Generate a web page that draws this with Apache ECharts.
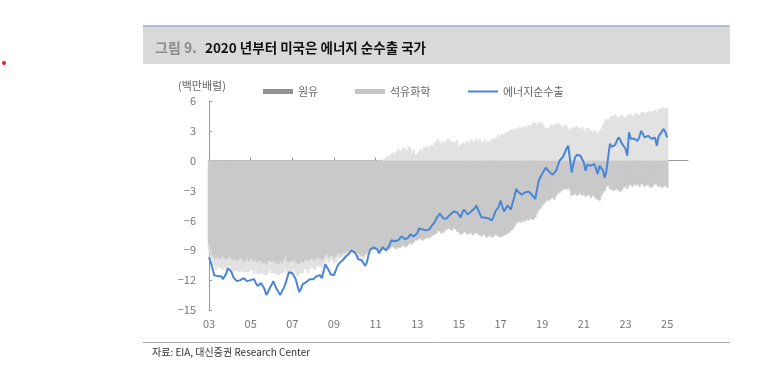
<!DOCTYPE html>
<html>
<head>
<meta charset="utf-8">
<script src="https://cdn.jsdelivr.net/npm/echarts@6/dist/echarts.min.js"></script>
<style>
html,body{margin:0;padding:0;background:#fff;}
#c{width:775px;height:380px;}
</style>
</head>
<body>
<div id="c"></div>
<script>
// ---- data (monthly, Jan 2003 .. Jan 2025), million barrels/day ----
var startYear = 2003;
var seriesNames = ['원유', '석유화학', '에너지순수출'];
var xTickLabels = ['03','05','07','09','11','13','15','17','19','21','23','25'];
var yMin = -15, yMax = 6, yStep = 3;

var crude = [
 -8.4,-8.9,-9.5,-9.7,-9.8,-9.6,-9.9,-9.7,-9.6,-9.8,-9.9,-9.7,
 -9.6,-9.9,-10.0,-9.8,-10.1,-10.0,-9.8,-9.9,-10.2,-10.0,-9.9,-10.1,
 -9.8,-10.0,-10.1,-9.9,-10.2,-10.0,-10.1,-10.3,-10.2,-10.4,-10.1,-10.0,
 -10.2,-10.0,-10.3,-10.2,-10.4,-10.1,-10.3,-10.0,-9.6,-10.1,-10.2,-10.0,
 -10.1,-9.9,-10.2,-10.3,-10.4,-10.1,-10.2,-10.0,-9.9,-10.1,-10.0,-9.8,
 -9.9,-10.0,-9.8,-9.7,-9.9,-10.0,-9.8,-9.5,-9.4,-9.7,-9.6,-9.5,
 -9.8,-9.6,-9.4,-9.3,-9.5,-9.2,-9.3,-9.1,-9.2,-9.0,-8.9,-9.1,
 -9.0,-9.2,-9.3,-9.4,-9.5,-9.6,-9.4,-9.2,-9.1,-8.9,-8.8,-8.9,
 -8.9,-9.0,-9.2,-9.1,-9.0,-8.9,-9.1,-9.0,-8.9,-8.7,-8.6,-8.8,
 -8.9,-8.7,-8.8,-8.6,-8.5,-8.7,-8.6,-8.4,-8.3,-8.4,-8.2,-8.0,
 -8.0,-7.9,-7.8,-8.0,-7.9,-7.8,-7.7,-7.8,-7.6,-7.5,-7.4,-7.3,
 -7.0,-7.1,-7.3,-7.2,-7.0,-6.9,-6.8,-6.9,-7.0,-6.8,-6.9,-7.1,
 -7.2,-7.4,-7.3,-7.1,-7.2,-7.4,-7.3,-7.2,-7.5,-7.3,-7.2,-7.4,
 -7.5,-7.6,-7.4,-7.5,-7.7,-7.6,-7.5,-7.7,-7.6,-7.4,-7.5,-7.6,
 -7.7,-7.6,-7.5,-7.4,-7.3,-7.2,-7.0,-6.9,-6.6,-6.3,-6.2,-6.1,
 -6.2,-6.0,-6.1,-5.9,-6.0,-5.8,-5.9,-5.9,-5.7,-5.3,-5.0,-4.8,
 -4.5,-4.3,-4.1,-3.9,-4.0,-3.8,-3.7,-3.9,-3.5,-3.3,-3.2,-3.0,
 -2.9,-2.8,-2.9,-2.7,-3.0,-3.5,-3.4,-3.3,-3.5,-3.4,-3.3,-3.5,
 -3.3,-3.6,-3.5,-3.4,-3.7,-3.5,-3.6,-3.8,-3.9,-4.0,-3.5,-3.2,
 -3.0,-2.6,-2.5,-2.8,-2.9,-3.0,-2.9,-2.8,-3.0,-3.1,-2.9,-2.7,
 -2.6,-2.8,-2.5,-2.4,-2.6,-2.3,-2.5,-2.4,-2.6,-2.3,-2.4,-2.6,
 -2.5,-2.4,-2.6,-2.7,-2.5,-2.3,-2.4,-2.6,-2.5,-2.7,-2.6,-2.5,
 -2.7
];

var products = [
 -0.8,-1.0,-1.1,-0.9,-1.2,-1.0,-0.9,-1.1,-1.3,-1.0,-1.1,-0.9,
 -1.0,-1.2,-1.1,-1.3,-1.0,-1.2,-1.4,-1.1,-1.0,-1.2,-1.3,-1.1,
 -1.2,-1.0,-1.3,-1.1,-1.2,-1.4,-1.2,-1.0,-1.3,-1.1,-1.2,-1.0,
 -1.1,-1.3,-1.0,-1.2,-1.1,-1.3,-1.0,-1.2,-1.4,-1.1,-1.0,-1.2,
 -1.2,-1.0,-1.1,-1.3,-1.0,-1.2,-1.1,-0.9,-1.0,-1.2,-0.9,-1.0,
 -0.9,-1.0,-0.8,-0.9,-0.7,-0.8,-0.6,-0.7,-0.5,-0.6,-0.4,-0.5,
 -0.5,-0.6,-0.4,-0.5,-0.3,-0.4,-0.5,-0.3,-0.4,-0.2,-0.3,-0.2,
 -0.3,-0.2,-0.4,-0.3,-0.2,-0.3,-0.1,-0.2,-0.1,-0.2,-0.1,-0.1,
 -0.1,-0.1,0.1,0.0,0.1,0.2,0.3,0.5,0.4,0.7,0.8,0.6,
 0.9,1.2,1.0,1.1,1.3,1.2,1.0,1.4,1.3,0.8,1.1,0.7,
 0.7,0.9,1.2,1.0,1.4,1.3,1.5,1.2,1.6,1.5,1.8,2.0,
 2.2,1.9,1.7,2.0,1.8,2.1,2.2,1.9,2.0,1.8,1.9,2.1,
 1.4,1.6,1.8,1.7,1.9,2.0,1.8,2.1,2.0,1.9,2.2,2.0,
 2.2,1.8,1.9,2.1,1.8,2.0,1.9,2.2,2.1,2.3,2.4,2.6,
 2.5,2.7,2.6,2.8,2.9,3.0,3.1,3.2,3.0,3.3,3.2,3.4,
 3.2,3.4,3.5,3.3,3.6,3.5,3.7,3.9,3.8,3.6,3.9,3.85,
 3.8,3.5,3.3,3.2,3.4,3.6,3.5,3.7,3.6,3.8,3.7,3.5,
 3.4,3.6,3.5,3.2,3.0,3.3,3.4,3.35,3.5,3.3,3.2,3.4,
 3.1,2.9,3.3,3.2,3.0,2.85,3.1,2.9,2.8,3.0,3.2,3.6,
 4.0,4.2,4.1,4.3,4.5,4.4,4.6,4.5,4.3,4.5,4.6,4.4,
 4.3,4.5,4.6,4.7,4.5,4.6,4.8,4.7,4.6,4.8,4.9,4.7,
 4.85,4.9,5.0,4.8,5.0,5.1,4.9,5.2,5.1,5.35,5.3,5.2,
 5.3
];

var net = [
 -9.7,-9.6,-10.8,-11.5,-11.7,-11.6,-11.5,-11.6,-11.9,-11.8,-11.3,-10.8,
 -10.8,-11.2,-11.7,-11.9,-12.1,-12.2,-12.0,-11.9,-11.8,-12.0,-12.1,-12.1,
 -12.0,-11.9,-11.9,-12.3,-12.6,-12.4,-12.3,-12.6,-12.9,-13.5,-13.2,-12.8,
 -12.5,-12.1,-11.9,-12.9,-13.2,-13.5,-13.4,-12.8,-12.4,-12.3,-11.2,-11.3,
 -11.3,-11.5,-11.9,-12.6,-13.2,-12.9,-12.4,-12.5,-12.2,-12.0,-11.9,-12.0,
 -11.9,-11.7,-11.6,-11.4,-11.5,-11.8,-11.9,-10.4,-10.2,-11.0,-11.4,-11.3,
 -11.5,-11.7,-10.6,-10.3,-10.1,-10.0,-9.8,-9.6,-9.5,-9.3,-9.0,-8.8,
 -9.2,-9.5,-9.9,-10.1,-10.0,-10.3,-10.55,-10.2,-9.4,-8.9,-8.8,-8.7,
 -8.7,-8.9,-9.3,-9.0,-8.7,-8.8,-9.0,-8.9,-8.5,-8.0,-7.9,-8.1,
 -8.2,-8.0,-7.8,-7.6,-7.7,-7.9,-8.0,-7.7,-7.4,-7.5,-7.6,-7.5,
 -7.3,-6.8,-6.6,-6.9,-7.1,-7.0,-6.8,-6.9,-6.6,-6.4,-6.2,-5.8,
 -5.6,-5.3,-5.5,-5.8,-6.0,-5.8,-5.6,-5.4,-5.3,-5.1,-4.9,-5.2,
 -5.3,-5.7,-5.2,-4.9,-5.1,-5.4,-5.3,-5.1,-5.0,-4.8,-4.5,-4.9,
 -5.3,-5.7,-5.5,-5.7,-5.9,-5.8,-5.9,-6.0,-5.6,-5.1,-5.2,-4.6,
 -4.0,-4.6,-5.1,-4.8,-4.5,-4.7,-4.9,-4.2,-3.6,-2.85,-3.1,-3.3,
 -3.4,-3.3,-3.2,-3.3,-3.1,-3.0,-3.4,-3.6,-3.85,-2.9,-2.0,-1.6,
 -1.3,-1.0,-0.7,-0.8,-1.1,-1.3,-1.4,-1.5,-1.0,-0.5,0.0,0.2,
 0.4,0.6,1.2,1.5,1.3,-1.2,-0.3,0.35,0.6,0.7,0.5,0.4,
 -0.2,-1.0,-0.4,-0.2,-0.5,-0.4,-0.35,-0.8,-1.35,-0.5,-0.6,-1.0,
 -1.7,-1.0,0.35,1.7,1.4,1.2,1.6,2.0,2.35,2.1,1.7,1.5,
 1.2,0.5,2.85,2.2,2.0,2.2,2.1,2.0,2.4,3.0,2.7,2.35,
 2.4,2.5,2.3,2.2,2.0,2.3,1.5,2.4,2.7,2.9,3.2,2.85,
 2.35
];

// ---- build (layered bars: products below crude when negative, above zero when positive) ----
var FONT = '"Noto Sans CJK KR", "Noto Sans", sans-serif';
function pairs(arr){ return arr.map(function(v,i){ return [i/12, v]; }); }
var productsBelow = crude.map(function(c,i){ return c + Math.min(products[i], 0); });
var productsAbove = products.map(function(p){ return Math.max(p, 0); });
var tickVals = xTickLabels.map(function(_, i){ return i*2; });
function yFmt(v){ return String(v).replace('-', '\u2212'); }

var DARK = '#c9c9c9', LIGHT = '#e2e2e2', BLUE = '#4a86d6';
var legendBase = { top: 81, itemWidth: 30, itemGap: 0, textStyle: { fontFamily: FONT, fontSize: 11, color: '#666666' }, selectedMode: false };

var chart = echarts.init(document.getElementById('c'), null, {renderer:'canvas'});
chart.setOption({
  animation: false,
  backgroundColor: '#ffffff',
  title: {
    text: '{a|그림 9.}  {b|2020 년부터 미국은 에너지 순수출 국가}',
    left: 150, top: 34,
    textStyle: {
      fontFamily: FONT,
      rich: {
        a: { color: '#8c8c8c', fontSize: 14, fontFamily: FONT },
        b: { color: '#111111', fontSize: 13.5, fontWeight: 'bold', fontFamily: FONT }
      }
    }
  },
  graphic: [
    { type: 'rect', z: -1, shape: { x: 143, y: 26, width: 587, height: 38 }, style: { fill: '#d9d9d9' } },
    { type: 'line', shape: { x1: 143, y1: 26, x2: 730, y2: 26 }, style: { stroke: '#9db1cc', lineWidth: 1.5 } },
    { type: 'line', shape: { x1: 143, y1: 342.5, x2: 730, y2: 342.5 }, style: { stroke: '#a8a8a8', lineWidth: 1 } },
    { type: 'text', x: 152, y: 352, style: { text: '자료: EIA, 대신증권 Research Center', fill: '#333333', font: '10px ' + FONT, textVerticalAlign: 'middle' } },
    { type: 'text', x: 178, y: 86, style: { text: '(백만배럴)', fill: '#666666', font: '11px ' + FONT, textVerticalAlign: 'middle' } },
    { type: 'circle', shape: { cx: 4, cy: 63, r: 2 }, style: { fill: '#e41c1c' } }
  ],
  legend: [
    Object.assign({}, legendBase, { left: 258, itemHeight: 5, data: [{ name: seriesNames[0], icon: 'rect', itemStyle: { color: '#929292' } }] }),
    Object.assign({}, legendBase, { left: 350, itemHeight: 5, data: [{ name: seriesNames[1], icon: 'rect', itemStyle: { color: '#c4c4c4' } }] }),
    Object.assign({}, legendBase, { left: 463, itemHeight: 2, data: [{ name: seriesNames[2], icon: 'rect', itemStyle: { color: BLUE } }] })
  ],
  grid: { left: 209, right: 87, top: 101, bottom: 70, containLabel: false },
  xAxis: [
    { type: 'value', min: 0, max: 23, interval: 2,
      axisLine: { onZero: true, onZeroAxisIndex: 0, lineStyle: { color: '#9a9a9a', width: 1 } },
      axisTick: { show: true, inside: false, length: 3, customValues: tickVals, lineStyle: { color: '#8a8a8a' } },
      axisLabel: { show: false }, splitLine: { show: false } },
    { type: 'value', min: 0, max: 23, interval: 2, position: 'bottom',
      axisLine: { show: false, onZero: true, onZeroAxisIndex: 0 },
      axisTick: { show: true, inside: true, length: 3, customValues: tickVals, lineStyle: { color: '#8a8a8a' } },
      axisLabel: { show: false }, splitLine: { show: false } },
    { type: 'value', min: 0, max: 23, interval: 2, position: 'bottom',
      axisLine: { show: false, onZero: false },
      axisTick: { show: false },
      axisLabel: { show: true, customValues: tickVals, margin: 8, color: '#777777', fontSize: 11, fontFamily: FONT,
        formatter: function(v){ return xTickLabels[Math.round(v/2)] || ''; } },
      splitLine: { show: false } }
  ],
  yAxis: {
    type: 'value', min: yMin, max: yMax, interval: yStep,
    axisLine: { show: true, lineStyle: { color: '#9a9a9a' } },
    axisTick: { show: true, inside: true, length: 3, lineStyle: { color: '#9a9a9a' } },
    axisLabel: { margin: 13, color: '#777777', fontSize: 11, fontFamily: FONT, formatter: yFmt },
    splitLine: { show: false }
  },
  series: [
    { name: seriesNames[1], type: 'bar', xAxisIndex: 0, barWidth: 2.4, barGap: '-100%',
      itemStyle: { color: LIGHT }, data: pairs(productsBelow), z: 1 },
    { name: seriesNames[0], type: 'bar', xAxisIndex: 0, barWidth: 2.4, barGap: '-100%',
      itemStyle: { color: DARK }, data: pairs(crude), z: 2 },
    { name: seriesNames[1], type: 'bar', xAxisIndex: 0, barWidth: 2.4, barGap: '-100%',
      itemStyle: { color: LIGHT }, data: pairs(productsAbove), z: 2 },
    { name: seriesNames[2], type: 'line', xAxisIndex: 0, symbol: 'none', showSymbol: false,
      lineStyle: { color: BLUE, width: 2 }, itemStyle: { color: BLUE },
      data: pairs(net), z: 5 }
  ]
});
</script>
</body>
</html>
